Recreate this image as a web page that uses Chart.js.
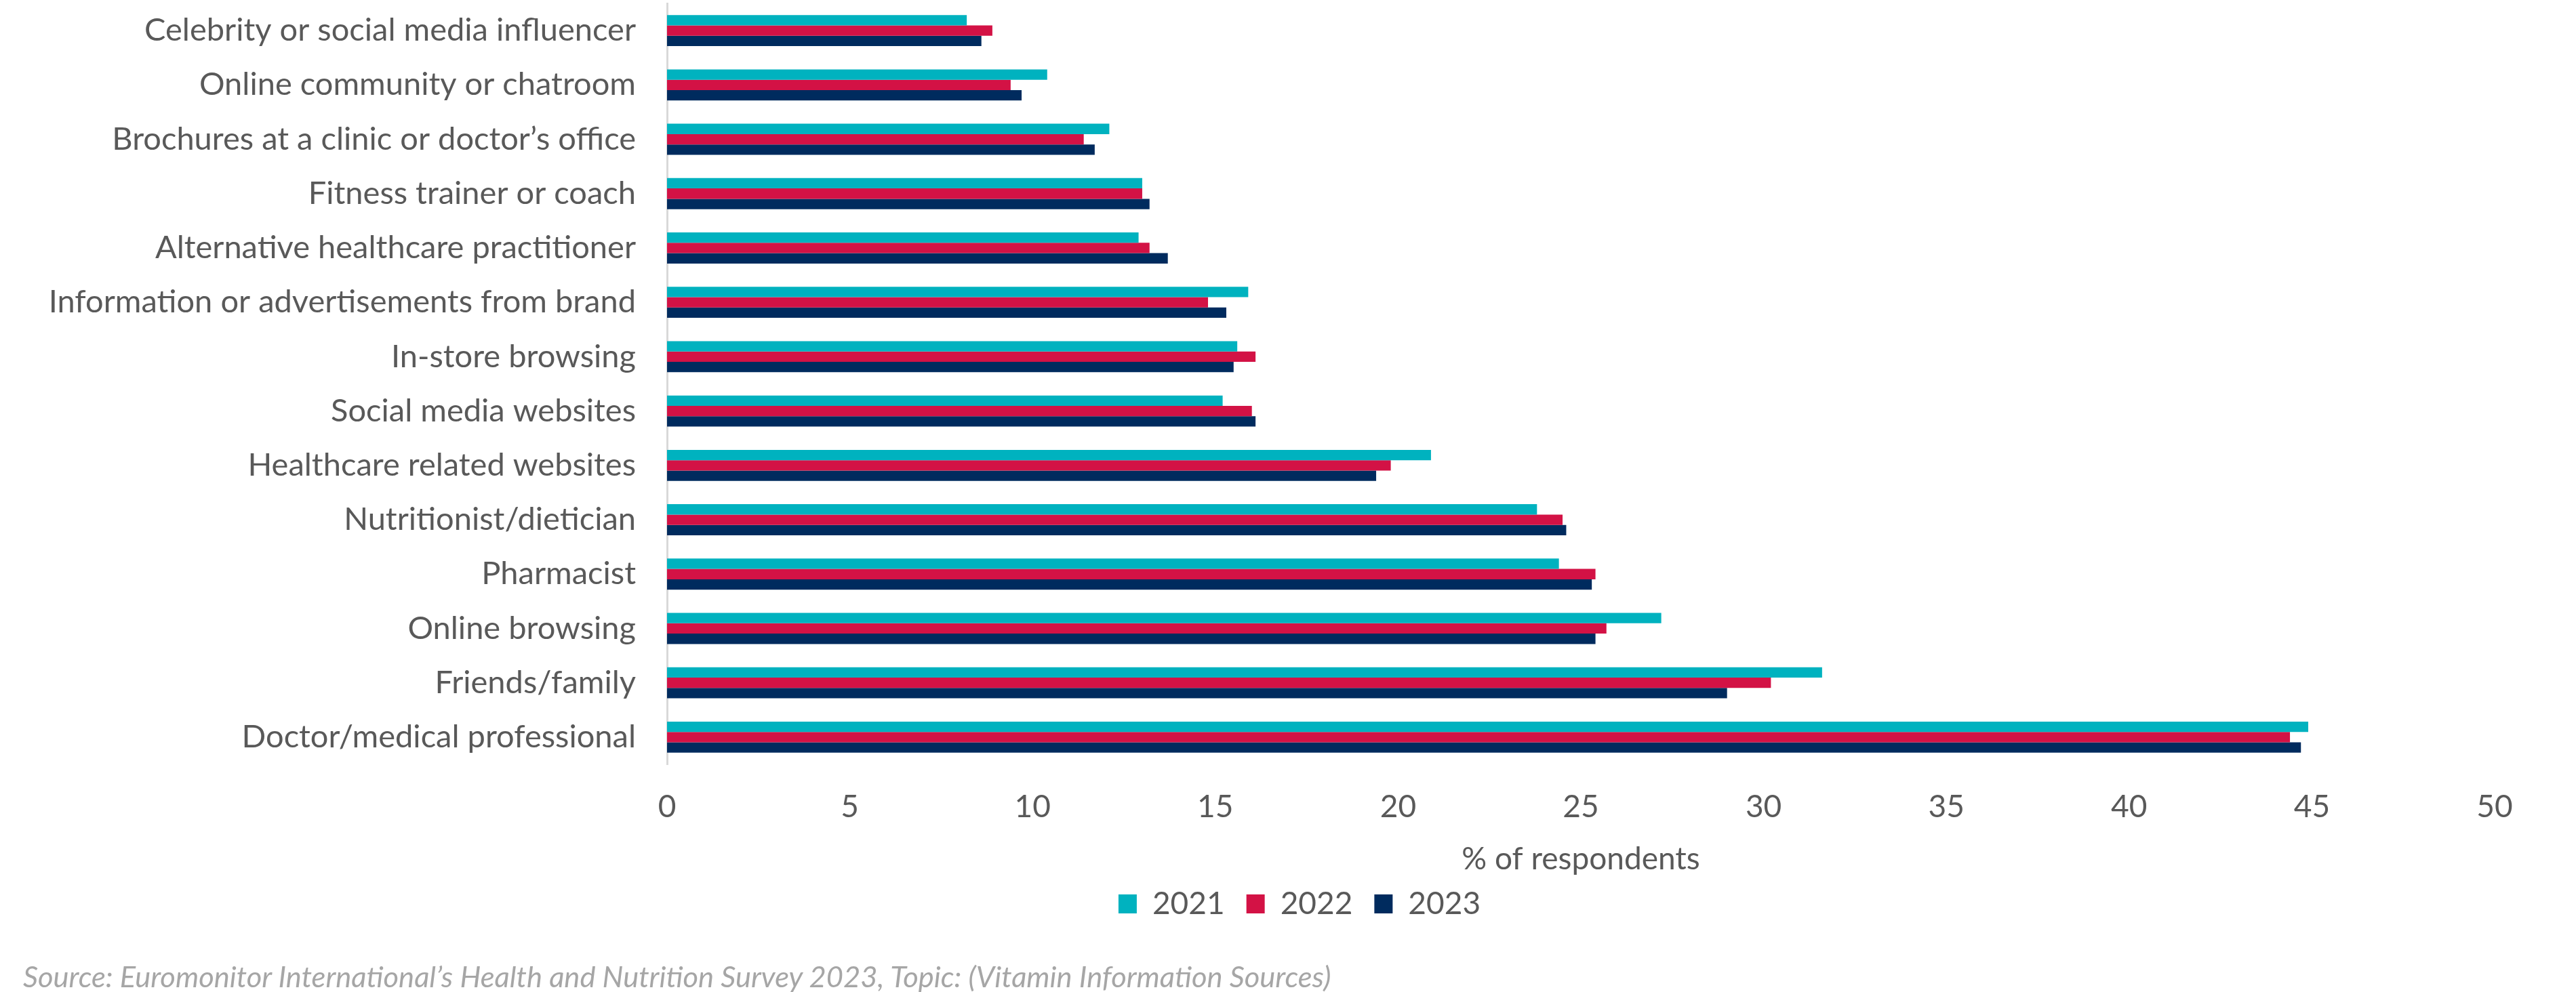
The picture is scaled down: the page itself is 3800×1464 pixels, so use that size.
<!DOCTYPE html>
<html>
<head>
<meta charset="utf-8">
<script src="https://cdn.jsdelivr.net/npm/chart.js"></script>
<style>
  html, body { margin: 0; padding: 0; background: #fff; }
  #wrap { position: relative; width: 3800px; height: 1464px; }
  #source {
    position: absolute; left: 34px; top: 1414px;
    font: italic 43.5px Lato; line-height: 52px;
    color: #a6a6a6; white-space: nowrap;
  }
</style>
</head>
<body>
<div id="wrap">
  <canvas id="sourcesChart"></canvas>
  <div id="source">Source: Euromonitor International’s Health and Nutrition Survey 2023, Topic: (Vitamin Information Sources)</div>
</div>
<script>
// --- DATA ---
const sources = [
    'Celebrity or social media influencer',
    'Online community or chatroom',
    'Brochures at a clinic or doctor’s office',
    'Fitness trainer or coach',
    'Alternative healthcare practitioner',
    'Information or advertisements from brand',
    'In-store browsing',
    'Social media websites',
    'Healthcare related websites',
    'Nutritionist/dietician',
    'Pharmacist',
    'Online browsing',
    'Friends/family',
    'Doctor/medical professional'
];
const years = ['2021', '2022', '2023'];
const values2021 = [8.2, 10.4, 12.1, 13.0, 12.9, 15.9, 15.6, 15.2, 20.9, 23.8, 24.4, 27.2, 31.6, 44.9];
const values2022 = [8.9, 9.4, 11.4, 13.0, 13.2, 14.8, 16.1, 16.0, 19.8, 24.5, 25.4, 25.7, 30.2, 44.4];
const values2023 = [8.6, 9.7, 11.7, 13.2, 13.7, 15.3, 15.5, 16.1, 19.4, 24.6, 25.3, 25.4, 29.0, 44.7];
const xTicks = [0, 5, 10, 15, 20, 25, 30, 35, 40, 45, 50];

const seriesColors = ['#00B2BF', '#D31245', '#002B5E'];
const textGray = '#595959';
const fontFamily = 'Lato';

const ctx = document.getElementById('sourcesChart').getContext('2d');

new Chart(ctx, {
    type: 'bar',
    data: {
        labels: sources,
        datasets: [values2021, values2022, values2023].map((vals, i) => ({
            label: years[i],
            data: vals,
            backgroundColor: seriesColors[i],
            borderWidth: 0,
            categoryPercentage: 0.572,
            barPercentage: 1
        }))
    },
    options: {
        indexAxis: 'y',
        responsive: true,
        maintainAspectRatio: false,
        devicePixelRatio: 1,
        animation: false,
        layout: { padding: { top: 5, left: 34, right: 0, bottom: 97 } },
        scales: {
            x: {
                min: 0,
                max: 50,
                afterBuildTicks: (scale) => { scale.ticks = xTicks.map(v => ({ value: v })); },
                afterFit: (scale) => {
                    scale.paddingRight = 120;
                    scale.height = 151;   // ticks hang from the top, title sits on the bottom
                },
                grid: { display: false, drawTicks: false },
                border: { display: false },
                ticks: { color: textGray, font: { family: fontFamily, size: 46 }, padding: 36 },
                title: {
                    display: true,
                    text: '% of respondents',
                    color: textGray,
                    font: { family: fontFamily, size: 46 },
                    padding: { top: 0, bottom: -17 }
                }
            },
            y: {
                afterFit: (scale) => {
                    scale.width = 950;
                    scale.paddingTop = 0;
                    scale.paddingBottom = 0;
                },
                grid: { display: false, drawTicks: false },
                border: { display: true, color: '#D9D9D9', width: 3 },
                ticks: { color: textGray, font: { family: fontFamily, size: 47 }, padding: 46, autoSkip: false }
            }
        },
        plugins: {
            legend: {
                position: 'bottom',
                labels: {
                    color: textGray,
                    font: { family: fontFamily, size: 46 },
                    boxWidth: 27,
                    boxHeight: 28,
                    padding: 32
                }
            },
            tooltip: { enabled: false }
        }
    }
});
</script>
</body>
</html>
